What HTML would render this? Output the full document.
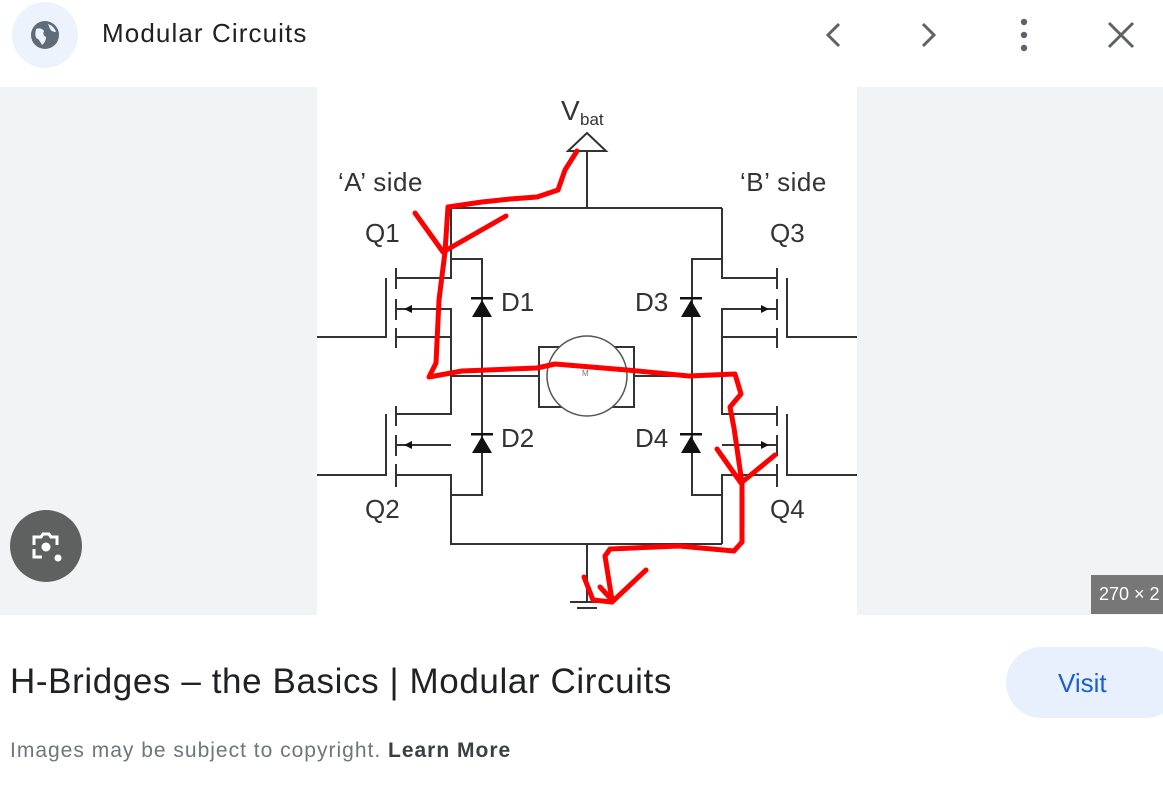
<!DOCTYPE html>
<html><head><meta charset="utf-8"><style>
html,body{margin:0;padding:0;width:1163px;height:799px;background:#fff;overflow:hidden;font-family:"Liberation Sans",sans-serif;}
.abs{position:absolute;}
</style></head><body>
<div class="abs" style="left:12px;top:2px;width:66px;height:66px;border-radius:50%;background:#edf3fc;"></div>
<svg class="abs" style="left:28px;top:18px" width="34" height="34" viewBox="0 0 34 34"><circle cx="17" cy="17" r="14" fill="#5f6b78"/><path d="M8 11 q5 -2 8 2 q-2 4 2 6 q0 5 -4 8 q-2-4-4-6 q-4-1-2-10z M20 6 q6 2 8 8 q-4 0-6-3z" fill="#edf3fc"/></svg>
<div class="abs" style="left:102px;top:18px;font-size:26px;letter-spacing:1.1px;color:#202124;">Modular Circuits</div>
<svg class="abs" style="left:800px;top:10px" width="360" height="50">
<polyline points="39,14 28,25 39,36" fill="none" stroke="#5f6368" stroke-width="3"/>
<polyline points="123,14 134,25 123,36" fill="none" stroke="#5f6368" stroke-width="3"/>
<circle cx="224" cy="12" r="3.2" fill="#5f6368"/><circle cx="224" cy="25" r="3.2" fill="#5f6368"/><circle cx="224" cy="38" r="3.2" fill="#5f6368"/>
<path d="M309 13 L333 37 M333 13 L309 37" stroke="#5f6368" stroke-width="3"/>
</svg>
<div class="abs" style="left:0;top:87px;width:1163px;height:528px;background:#f1f3f4;"></div>
<div class="abs" style="left:317px;top:87px;width:540px;height:528px;background:#fff;"></div>
<svg class="abs" style="left:0;top:0" width="1163" height="620">
<g fill="none" stroke="#333" stroke-width="2">
<polygon points="587,133 568,151 606,151" fill="#fff"/>
<path d="M587 151V208 M451 208H722 M451 208V278H396 M451 259H482V495H451 M396 309H451V414H396 M396 337H451 M317 337H386V278 M451 376H539 M634 376H722 M396 475H451V544H722 M396 445H451 M317 475H386V414 M587 544V602 M570 602H604 M577 608H597"/>
<path d="M722 208V278H777 M722 259H692V495H722 M777 309H722V414H777 M777 337H722 M857 337H787V278 M777 475H722V544 M777 445H722 M857 475H787V414"/>
<path d="M396 268V289 M396 299V320 M396 328V348 M396 406V426 M396 435V456 M396 464V487 M777 268V289 M777 299V320 M777 328V348 M777 406V426 M777 435V456 M777 464V487"/>
<rect x="539" y="347" width="95" height="60" fill="#fff"/>
<circle cx="587" cy="376" r="40" fill="#fff" stroke="#555" stroke-width="1.5"/>
</g>
<g fill="#111">
<polygon points="404,309 412,305 412,313"/><polygon points="404,445 412,441 412,449"/>
<polygon points="769,309 761,305 761,313"/><polygon points="769,445 761,441 761,449"/>
<polygon points="482,300 472,317 492,317"/><rect x="471" y="297" width="22" height="2.5"/>
<polygon points="482,436 472,453 492,453"/><rect x="471" y="433" width="22" height="2.5"/>
<polygon points="691,300 681,317 701,317"/><rect x="680" y="297" width="22" height="2.5"/>
<polygon points="691,436 681,453 701,453"/><rect x="680" y="433" width="22" height="2.5"/>
</g>
<g font-family="Liberation Sans,sans-serif" font-size="26" fill="#333">
<text x="338" y="191" letter-spacing="0.5">‘A’ side</text><text x="740" y="191" letter-spacing="0.5">‘B’ side</text>
<text x="365" y="242">Q1</text><text x="770" y="242">Q3</text>
<text x="365" y="518">Q2</text><text x="770" y="518">Q4</text>
<text x="501" y="311">D1</text><text x="635" y="311">D3</text>
<text x="501" y="447">D2</text><text x="635" y="447">D4</text>
<text x="561" y="120" font-size="28">V</text><text x="580" y="125" font-size="17">bat</text>
<text x="582" y="376" font-size="8" fill="#777">M</text>
</g>
<g fill="none" stroke="#f00" stroke-width="5" stroke-linecap="round" stroke-linejoin="round">
<path d="M577 151L565 170L558 190L537 197L510 199L482 202L448 207L445 252L439 300L436 363L429 377L462 371L537 368L555 364L627 370L689 376L735 374L741 394L730 407L734 428L742 483L742 542L734 551L679 546L610 549L605 556L612 600"/>
<path d="M415 213L443 252L506 216"/>
<path d="M717 449L741 483L775 455"/>
<path d="M584 577L593 600L612 602L646 570 M600 587L612 600"/>
</g>
</svg>
<div class="abs" style="left:10px;top:510px;width:72px;height:72px;border-radius:50%;background:#5f6160;"></div>
<svg class="abs" style="left:26px;top:526px" width="40" height="40"><path d="M8 19V11H15L17 8H23L25 11H31V19 M8 23V31H16" fill="none" stroke="#fff" stroke-width="3"/><circle cx="20" cy="21" r="4.5" fill="#fff"/><circle cx="32" cy="32" r="3.5" fill="#fff"/></svg>
<div class="abs" style="left:1091px;top:575px;width:72px;height:39px;background:#767776;color:#fff;font-size:18px;line-height:39px;padding-left:8px;white-space:nowrap;overflow:hidden;box-sizing:border-box;">270 × 2</div>
<div class="abs" style="left:10px;top:662px;font-size:35px;letter-spacing:0.6px;color:#202124;white-space:nowrap;">H-Bridges – the Basics | Modular Circuits</div>
<div class="abs" style="left:1006px;top:647px;width:175px;height:71px;border-radius:36px;background:#e8f0fe;"></div>
<div class="abs" style="left:1058px;top:668px;font-size:26px;color:#1a5fd1;">Visit</div>
<div class="abs" style="left:10px;top:739px;font-size:21px;letter-spacing:1px;color:#70757a;white-space:nowrap;">Images may be subject to copyright. <b style="color:#3c4043">Learn More</b></div>
</body></html>
